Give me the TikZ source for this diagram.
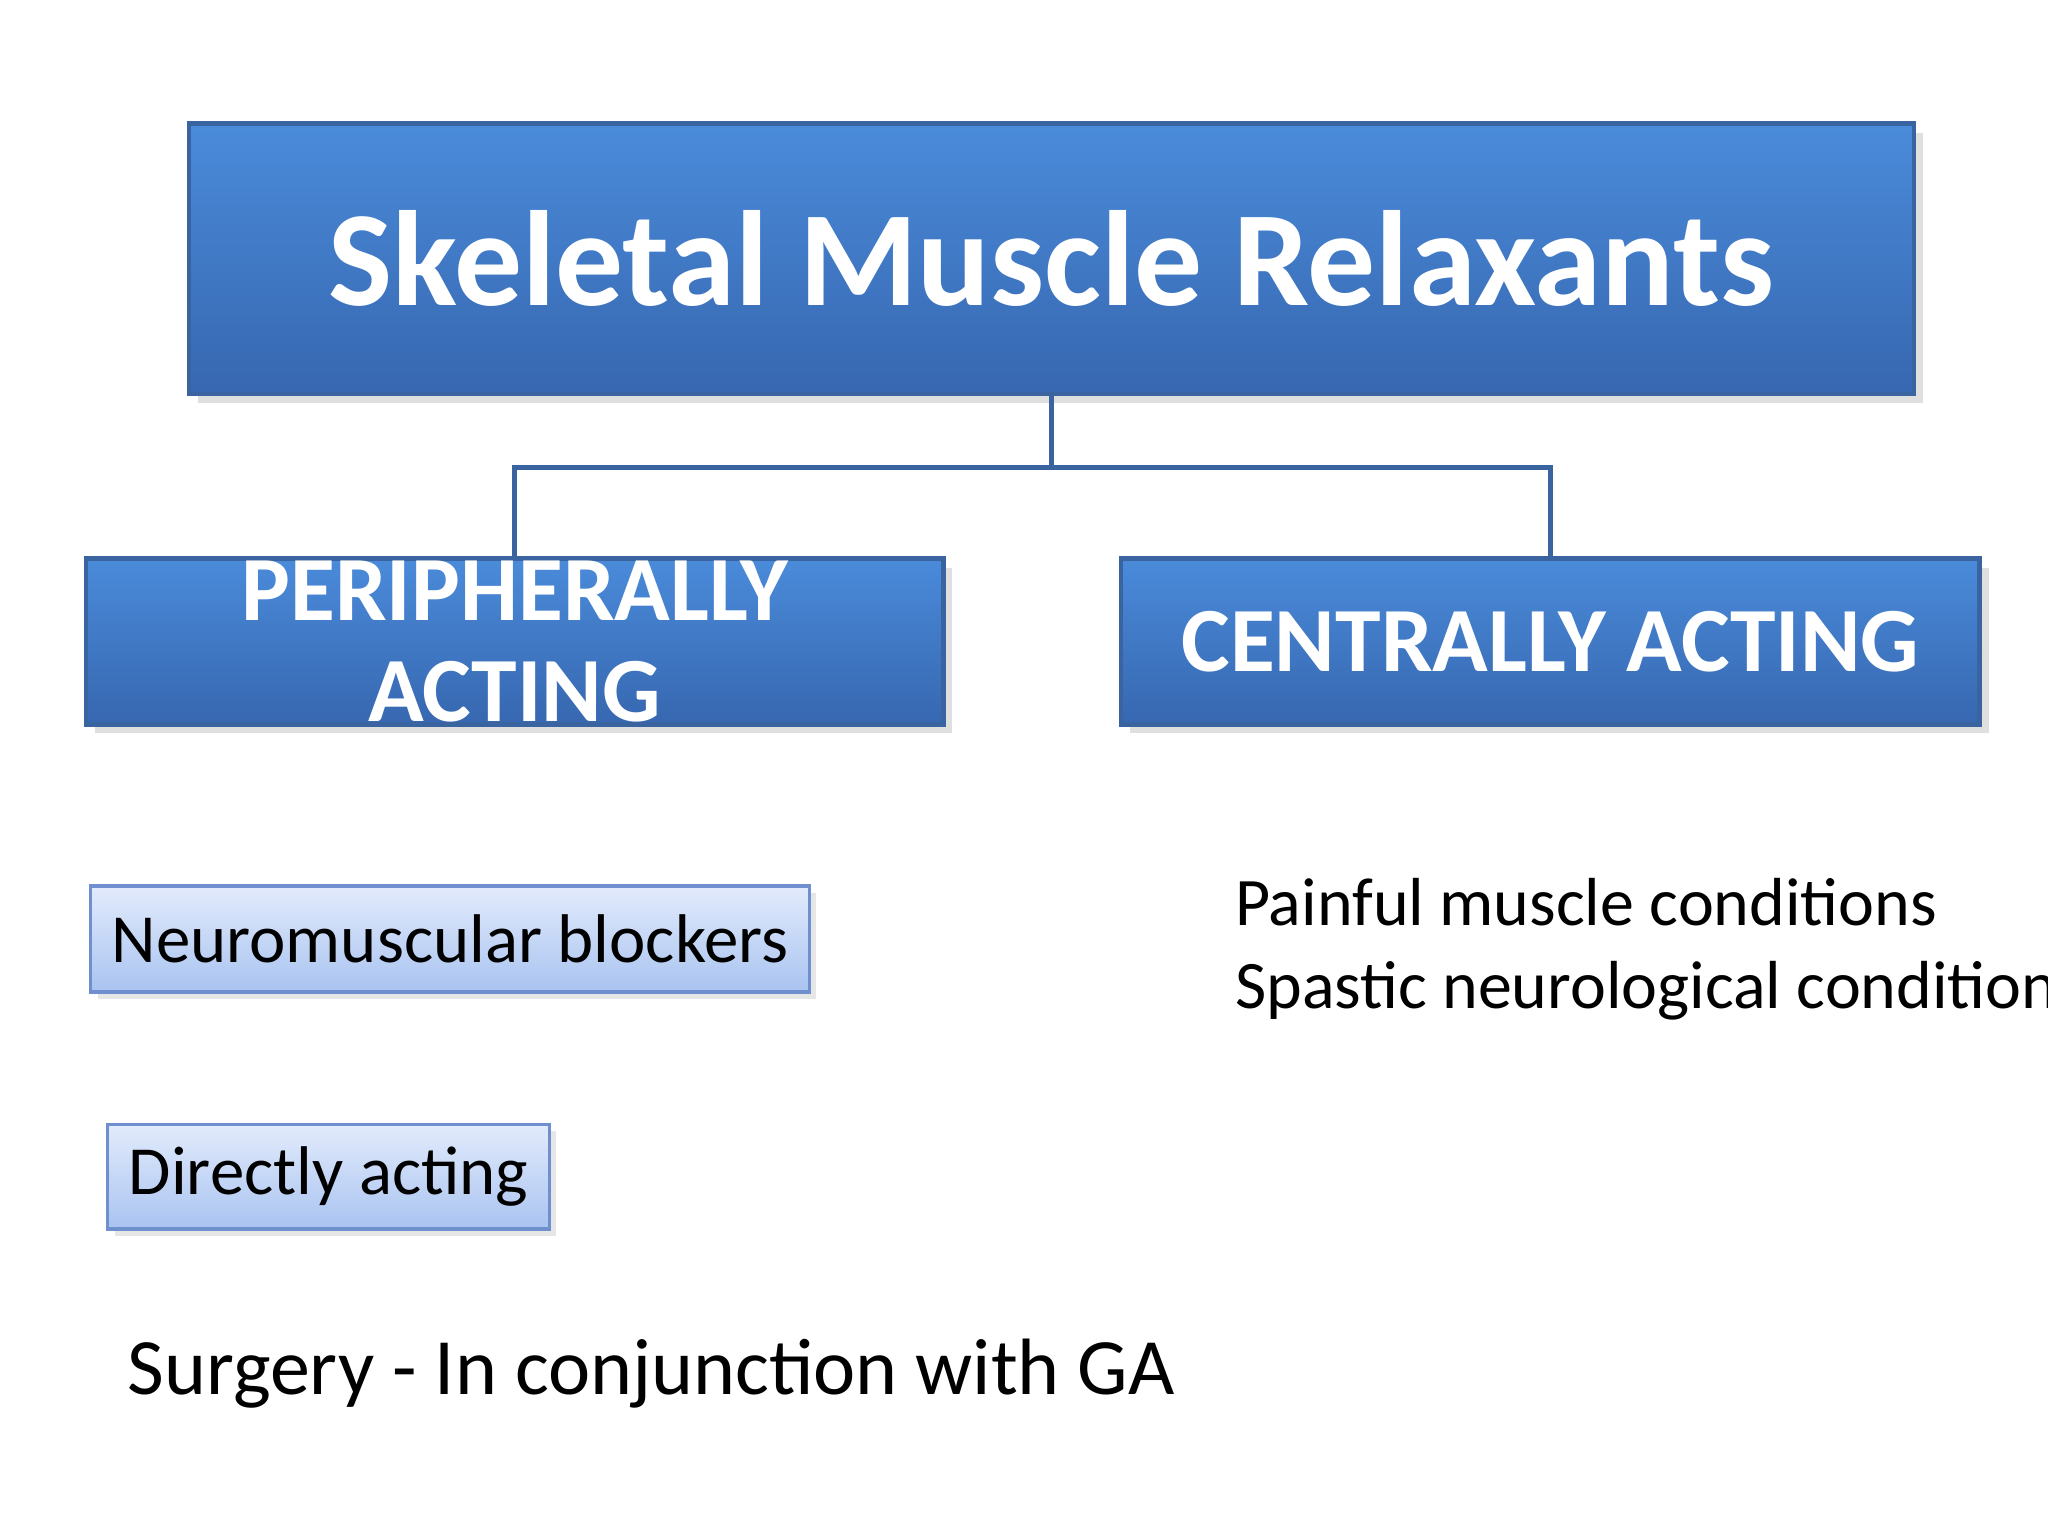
\documentclass[tikz,border=0pt]{standalone}
\usepackage{fontspec}
\setmainfont{Carlito}
\usetikzlibrary{shadows}
\definecolor{boxtop}{HTML}{4A8BDA}
\definecolor{boxbot}{HTML}{3767B0}
\definecolor{boxline}{HTML}{3A64A0}
\definecolor{lighttop}{HTML}{E2EBFC}
\definecolor{lightbot}{HTML}{A9C3F0}
\definecolor{lightline}{HTML}{6F8FCF}
\begin{document}
\begin{tikzpicture}[x=0.01cm,y=-0.01cm]
        \tikzstyle{bigbox}=[draw=boxline,line width=1pt,top color=boxtop,bottom color=boxbot,text=white,font=\bfseries,align=center,inner sep=0pt,drop shadow={opacity=0.25,shadow xshift=2pt,shadow yshift=-2pt}]
        \tikzstyle{smallbox}=[draw=lightline,line width=0.8pt,top color=lighttop,bottom color=lightbot,anchor=west,inner sep=0pt,drop shadow={opacity=0.2,shadow xshift=1.5pt,shadow yshift=-1.5pt}]
        \useasboundingbox (0,0) rectangle (1568,1176);
        \node[bigbox,minimum width=13.2cm,minimum height=2.07cm,font=\bfseries\fontsize{29.5}{34}\selectfont] (title) at (805,198) {Skeletal Muscle Relaxants};
        \node[bigbox,minimum width=6.56cm,minimum height=1.27cm,font=\bfseries\fontsize{20}{22}\selectfont] (peri) at (394,491) {PERIPHERALLY\\ACTING};
        \node[bigbox,minimum width=6.57cm,minimum height=1.27cm,font=\bfseries\fontsize{20}{24}\selectfont] (cent) at (1187,491) {CENTRALLY ACTING};
        
        \coordinate (mid) at (805,358);
        \draw[boxline,line width=1.2pt] (title.south) -- (mid);
        \draw[boxline,line width=1.2pt] (mid) -| (peri.north);
        \draw[boxline,line width=1.2pt] (mid) -| (cent.north);
        
        \node[smallbox,minimum width=5.5cm,minimum height=0.81cm,font=\fontsize{15}{18}\selectfont] (nmb) at (68,719) {Neuromuscular blockers};
        \node[smallbox,minimum width=3.38cm,minimum height=0.8cm,font=\fontsize{15}{18}\selectfont] (dir) at (81,901) {Directly acting};
        
        \node[anchor=north west,align=left,inner sep=0pt,font=\fontsize{14.8}{17.9}\selectfont] (uses) at (945,672) {Painful muscle conditions\\Spastic neurological conditions};
        \node[anchor=west,inner sep=0pt,font=\fontsize{17.4}{20}\selectfont] (surg) at (97,1052) {Surgery - In conjunction with GA};
\end{tikzpicture}
\end{document}
